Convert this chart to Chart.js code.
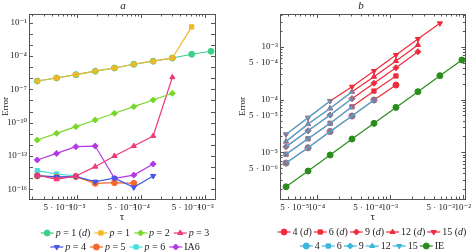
<!DOCTYPE html>
<html>
<head>
<meta charset="utf-8">
<script src="https://cdn.jsdelivr.net/npm/chart.js@4.4.0/dist/chart.umd.min.js"></script>
<style>
body { margin: 0; background: #fff; }
#wrap { display: flex; width: 474px; height: 252px; }
.panel { width: 237px; height: 252px; }
</style>
</head>
<body>
<div id="wrap">
  <div class="panel"><canvas id="chartA" width="237" height="252"></canvas></div>
  <div class="panel"><canvas id="chartB" width="237" height="252"></canvas></div>
</div>
<script>
// ---- panel a ----
var tauA = [2.38e-6, 4.77e-6, 9.54e-6, 1.91e-5, 3.81e-5, 7.63e-5, 1.53e-4, 3.05e-4, 6.10e-4, 1.22e-3];
var errP1d = [5.6e-7, 1.05e-6, 2.1e-6, 4.3e-6, 8.3e-6, 1.8e-5, 3.4e-5, 6.6e-5, 1.43e-4, 2.67e-4];
var errP1 = [5.6e-7, 1.05e-6, 2.1e-6, 4.3e-6, 8.3e-6, 1.8e-5, 3.4e-5, 6.6e-5, 4.2e-2];
var errP2 = [2.75e-12, 1.1e-11, 4.4e-11, 1.74e-10, 7.0e-10, 2.75e-9, 1.1e-8, 4.4e-8];
var errP3 = [1.95e-15, 7.9e-16, 1.6e-15, 1.1e-14, 1.0e-13, 7.9e-13, 6.3e-12, 1.23e-6];
var errP4 = [1.7e-15, 1.3e-15, 1.4e-15, 4.9e-16, 1.0e-15, 1.5e-16, 1.6e-15];
var errP5 = [1.6e-15, 1.2e-15, 1.4e-15, 3.5e-16, 4.0e-16, 3.5e-16];
var errP6 = [4.8e-15, 2.4e-15, 1.6e-15];
var errIA6 = [4.4e-14, 1.7e-13, 6.9e-13, 7.9e-13, 1.0e-15, 1.9e-15, 1.9e-14];

var xTicksA = [5e-6, 1e-5, 5e-5, 1e-4, 5e-4, 1e-3];
var xLabelsA = ['5 · 10⁻⁶', '10⁻⁵', '5 · 10⁻⁵', '10⁻⁴', '5 · 10⁻⁴', '10⁻³'];
var yTicksA = [1e-1, 1e-4, 1e-7, 1e-10, 1e-13, 1e-16];
var yLabelsA = ['10⁻¹', '10⁻⁴', '10⁻⁷', '10⁻¹⁰', '10⁻¹³', '10⁻¹⁶'];

// ---- panel b ----
var tauB = [3.81e-5, 7.63e-5, 1.53e-4, 3.05e-4, 6.10e-4, 1.22e-3, 2.44e-3, 4.88e-3, 9.77e-3];
var errD4 = [6.27e-6, 1.22e-5, 2.48e-5, 4.87e-5, 9.8e-5, 1.88e-4];
var errD6 = [9.2e-6, 1.81e-5, 3.54e-5, 7.3e-5, 1.45e-4, 2.79e-4];
var errD9 = [1.28e-5, 2.56e-5, 5.08e-5, 1.04e-4, 2.03e-4, 4.0e-4, 8.04e-4];
var errD12 = [1.6e-5, 3.43e-5, 6.8e-5, 1.41e-4, 2.7e-4, 5.36e-4, 1.08e-3];
var errD15 = [2.19e-5, 4.52e-5, 9.4e-5, 1.75e-4, 3.47e-4, 6.97e-4, 1.4e-3, 2.77e-3];
var err4 = [6.27e-6, 1.22e-5, 2.48e-5, 4.87e-5, 9.8e-5];
var err6 = [9.2e-6, 1.81e-5, 3.54e-5, 7.3e-5];
var err9 = [1.28e-5, 2.56e-5, 5.08e-5, 1.04e-4];
var err12 = [1.6e-5, 3.43e-5, 6.8e-5, 1.41e-4];
var err15 = [2.19e-5, 4.52e-5, 9.4e-5];
var errIE = [2.23e-6, 4.43e-6, 8.9e-6, 1.79e-5, 3.54e-5, 7.1e-5, 1.41e-4, 2.83e-4, 5.6e-4];

var xTicksB = [5e-5, 1e-4, 5e-4, 1e-3, 5e-3, 1e-2];
var xLabelsB = ['5 · 10⁻⁵', '10⁻⁴', '5 · 10⁻⁴', '10⁻³', '5 · 10⁻³', '10⁻²'];
var yTicksB = [1e-3, 5e-4, 1e-4, 5e-5, 1e-5, 5e-6];
var yLabelsB = ['10⁻³', '5 · 10⁻⁴', '10⁻⁴', '5 · 10⁻⁵', '10⁻⁵', '5 · 10⁻⁶'];

var FONT = "'Liberation Serif', 'DejaVu Serif', serif";

function pts(tau, vals) {
    return vals.map(function (v, i) { return {x: tau[i], y: v}; });
}

function series(label, tau, vals, color, style, extra) {
    var d = {
        label: label,
        data: pts(tau, vals),
        borderColor: color,
        backgroundColor: color,
        pointBackgroundColor: color,
        pointBorderColor: color,
        borderWidth: 1.2,
        pointRadius: 3,
        pointBorderWidth: 1,
        pointStyle: style,
        pointRotation: 0,
        order: 0
    };
    for (var k in extra) d[k] = extra[k];
    return d;
}

// inward tick marks + frame, title and legend
var framePlugin = {
    id: 'frame',
    afterDatasetsDraw: function (chart, args, opts) {
        var ctx = chart.ctx, a = chart.chartArea;
        var xs = chart.scales.x, ys = chart.scales.y;
        ctx.save();
        ctx.strokeStyle = '#555';
        ctx.lineWidth = 1;
        ctx.beginPath();
        logMarks(xs.min, xs.max, opts.xMinor).forEach(function (t) {
            var px = Math.round(xs.getPixelForValue(t.v)) + 0.5;
            var len = t.major ? 4 : 2.5;
            ctx.moveTo(px, a.bottom); ctx.lineTo(px, a.bottom - len);
            ctx.moveTo(px, a.top); ctx.lineTo(px, a.top + len);
        });
        logMarks(ys.min, ys.max, opts.yMinor).forEach(function (t) {
            var py = Math.round(ys.getPixelForValue(t.v)) + 0.5;
            var len = t.major ? 4 : 2.5;
            ctx.moveTo(a.left, py); ctx.lineTo(a.left + len, py);
            ctx.moveTo(a.right, py); ctx.lineTo(a.right - len, py);
        });
        ctx.stroke();
        ctx.strokeRect(Math.round(a.left) + 0.5, Math.round(a.top) + 0.5,
            Math.round(a.right - a.left), Math.round(a.bottom - a.top));
        ctx.restore();
    },
    afterDraw: function (chart, args, opts) {
        var ctx = chart.ctx;
        ctx.save();
        ctx.fillStyle = '#222';
        ctx.font = 'italic 11px ' + FONT;
        ctx.textAlign = 'center';
        ctx.textBaseline = 'middle';
        ctx.fillText(opts.title, opts.titleX, 6);
        ctx.restore();
        drawLegend(chart, opts);
    }
};

function logMarks(min, max, minor) {
    var out = [];
    for (var e = Math.floor(Math.log10(min)); e <= Math.ceil(Math.log10(max)); e++) {
        for (var m = 1; m <= 9; m++) {
            if (m > 1 && !minor) break;
            var v = m * Math.pow(10, e);
            if (v >= min && v <= max) out.push({v: v, major: m === 1});
        }
    }
    return out;
}

function textParts(s) {
    return s.split(/([pd])/).filter(function (t) { return t.length; }).map(function (t) {
        return {t: t, it: t === 'p' || t === 'd'};
    });
}

function measureLabel(ctx, s) {
    var w = 0;
    textParts(s).forEach(function (p) {
        ctx.font = (p.it ? 'italic ' : '') + '10px ' + FONT;
        w += ctx.measureText(p.t).width;
    });
    return w;
}

function drawLegend(chart, opts) {
    var ctx = chart.ctx, ds = chart.data.datasets;
    var sym = 13, gapText = 2;
    ctx.save();
    ctx.textBaseline = 'middle';
    ctx.textAlign = 'left';
    opts.rows.forEach(function (row, r) {
        var widths = row.map(function (i) { return sym + gapText + measureLabel(ctx, ds[i].label); });
        var total = widths.reduce(function (s, w) { return s + w; }, 0) + opts.gap * (row.length - 1);
        var x = opts.legendX - total / 2;
        var y = opts.legendY + r * 14;
        row.forEach(function (i, k) {
            var d = ds[i];
            ctx.strokeStyle = d.borderColor;
            ctx.fillStyle = d.borderColor;
            ctx.lineWidth = 1.2;
            ctx.beginPath();
            ctx.moveTo(x, y); ctx.lineTo(x + sym, y);
            ctx.stroke();
            ctx.lineWidth = 1;
            Chart.helpers.drawPoint(ctx, {pointStyle: d.pointStyle, rotation: d.pointRotation, radius: 3, borderWidth: 1}, x + sym / 2, y);
            var tx = x + sym + gapText;
            ctx.fillStyle = '#222';
            textParts(d.label).forEach(function (p) {
                ctx.font = (p.it ? 'italic ' : '') + '10px ' + FONT;
                ctx.fillText(p.t, tx, y);
                tx += ctx.measureText(p.t).width;
            });
            x += widths[k] + opts.gap;
        });
    });
    ctx.restore();
}

function makeScales(xMin, xMax, xTicks, xLabels, yMin, yMax, yTicks, yLabels, yWidth, rightWidth) {
    return {
        x: {
            type: 'logarithmic', min: xMin, max: xMax,
            afterBuildTicks: function (s) { s.ticks = xTicks.map(function (v) { return {value: v}; }); },
            afterFit: function (s) { s.height = 26; },
            ticks: {
                autoSkip: false, maxRotation: 0, padding: 3, color: '#222',
                font: {family: FONT, size: 9},
                callback: function (v) { return xLabels[xTicks.indexOf(v)]; }
            },
            grid: {display: false, drawTicks: false},
            border: {display: false},
            title: {display: true, text: 'τ', color: '#222', font: {family: FONT, size: 11}, padding: {top: 0, bottom: 1}}
        },
        y: {
            type: 'logarithmic', min: yMin, max: yMax,
            afterBuildTicks: function (s) { s.ticks = yTicks.map(function (v) { return {value: v}; }); },
            afterFit: function (s) { s.width = yWidth; },
            ticks: {
                autoSkip: false, padding: 2, color: '#222',
                font: {family: FONT, size: 9},
                callback: function (v) { return yLabels[yTicks.indexOf(v)]; }
            },
            grid: {display: false, drawTicks: false},
            border: {display: false},
            title: {display: true, text: 'Error', color: '#222', font: {family: FONT, size: 9}, padding: {top: 0, bottom: 0}}
        },
        yRight: {
            position: 'right', display: true,
            afterFit: function (s) { s.width = rightWidth; },
            ticks: {display: false},
            grid: {display: false, drawTicks: false},
            border: {display: false}
        }
    };
}

var chartA = new Chart(document.getElementById('chartA'), {
    type: 'line',
    data: {
        datasets: [
            series('p = 1 (d)', tauA, errP1d, '#3ecf8a', 'circle', {order: 1}),
            series('p = 1', tauA, errP1, '#f0b82a', 'rect'),
            series('p = 2', tauA, errP2, '#78d82a', 'rectRot'),
            series('p = 3', tauA, errP3, '#ee3a78', 'triangle'),
            series('p = 4', tauA, errP4, '#4656e6', 'triangle', {pointRotation: 180}),
            series('p = 5', tauA, errP5, '#f56a2a', 'circle'),
            series('p = 6', tauA, errP6, '#44dede', 'rect'),
            series('IA6', tauA, errIA6, '#b23ae6', 'rectRot')
        ]
    },
    options: {
        responsive: false,
        animation: false,
        layout: {padding: {top: 14, right: 0, bottom: 27, left: 0}},
        scales: makeScales(1.77e-6, 1.41e-3, xTicksA, xLabelsA, Math.pow(10, -16.87), Math.pow(10, -0.22), yTicksA, yLabelsA, 29, 22),
        plugins: {
            legend: {display: false},
            tooltip: {enabled: false},
            frame: {
                xMinor: true, yMinor: false,
                title: 'a', titleX: 123,
                rows: [[0, 1, 2, 3], [4, 5, 6, 7]],
                legendX: 125, legendY: 233, gap: 4
            }
        }
    },
    plugins: [framePlugin]
});

var RED = '#ee2b3b', CYAN = '#3cb6dc', CYAN_PT = 'rgba(60,182,220,0.45)';
var chartB = new Chart(document.getElementById('chartB'), {
    type: 'line',
    data: {
        datasets: [
            series('4 (d)', tauB, errD4, RED, 'circle', {order: 1}),
            series('6 (d)', tauB, errD6, RED, 'rect', {order: 1}),
            series('9 (d)', tauB, errD9, RED, 'rectRot', {order: 1}),
            series('12 (d)', tauB, errD12, RED, 'triangle', {order: 1}),
            series('15 (d)', tauB, errD15, RED, 'triangle', {order: 1, pointRotation: 180}),
            series('4', tauB, err4, CYAN, 'circle', {pointBackgroundColor: CYAN_PT, pointBorderColor: CYAN_PT}),
            series('6', tauB, err6, CYAN, 'rect', {pointBackgroundColor: CYAN_PT, pointBorderColor: CYAN_PT}),
            series('9', tauB, err9, CYAN, 'rectRot', {pointBackgroundColor: CYAN_PT, pointBorderColor: CYAN_PT}),
            series('12', tauB, err12, CYAN, 'triangle', {pointBackgroundColor: CYAN_PT, pointBorderColor: CYAN_PT}),
            series('15', tauB, err15, CYAN, 'triangle', {pointRotation: 180, pointBackgroundColor: CYAN_PT, pointBorderColor: CYAN_PT}),
            series('IE', tauB, errIE, '#2b8c1e', 'circle')
        ]
    },
    options: {
        responsive: false,
        animation: false,
        layout: {padding: {top: 14, right: 0, bottom: 27, left: 0}},
        scales: makeScales(3.15e-5, 1.09e-2, xTicksB, xLabelsB, 1.31e-6, 4.16e-3, yTicksB, yLabelsB, 43, 8),
        plugins: {
            legend: {display: false},
            tooltip: {enabled: false},
            frame: {
                xMinor: true, yMinor: true,
                title: 'b', titleX: 124,
                rows: [[0, 1, 2, 3, 4], [5, 6, 7, 8, 9, 10]],
                legendX: 135, legendY: 232, gap: 2
            }
        }
    },
    plugins: [framePlugin]
});
</script>
</body>
</html>
